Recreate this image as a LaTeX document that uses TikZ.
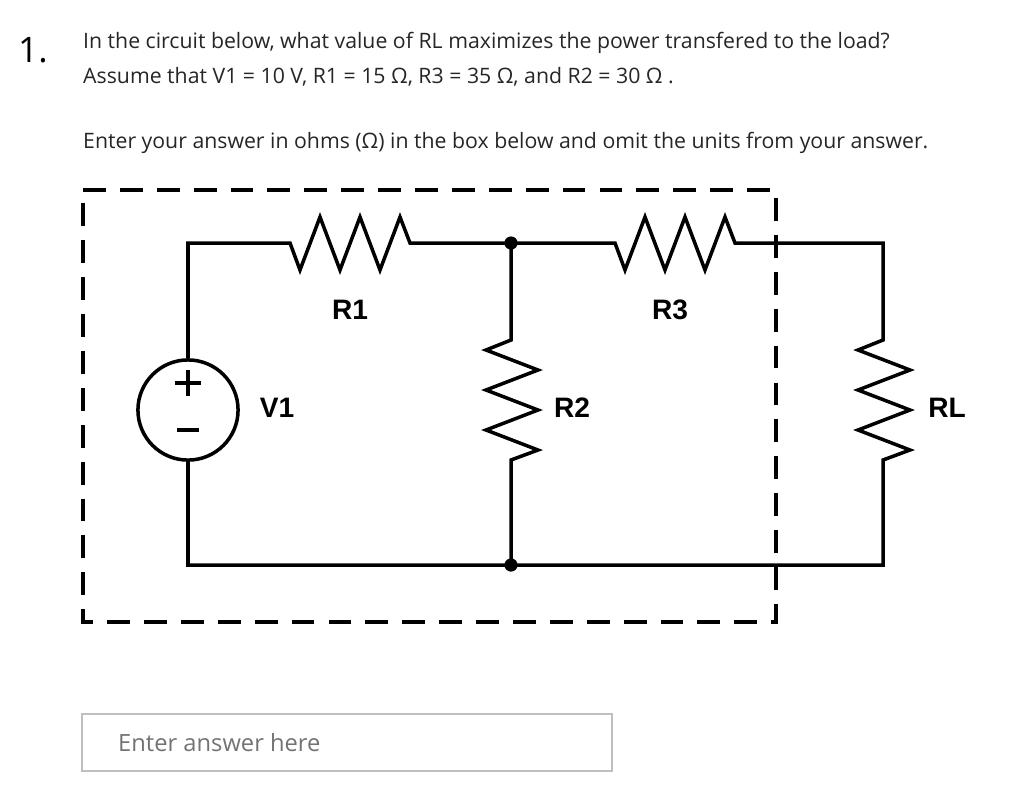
\documentclass[tikz,border=0pt]{standalone}
\usepackage{fontspec}
\setmainfont{Open Sans}
\newfontfamily\lblfont{Liberation Sans}
\usetikzlibrary{positioning}
\tikzset{%
  wire/.style={line width=2pt, line join=miter},
  dot/.style={circle, fill=black, inner sep=0pt, minimum size=7.5pt},
  lbl/.style={font=\lblfont\bfseries\fontsize{16}{19}\selectfont},
  txt/.style={anchor=west, font=\fontsize{12.1}{15}\selectfont, text=black!85},
}
\begin{document}
\begin{tikzpicture}[x=0.02cm, y=-0.02cm]
  \useasboundingbox (0,0) rectangle (1024,796);
  % question
  \node[anchor=west, font=\fontsize{20}{24}\selectfont] (num) at (12,50) {1.};
  \node[txt] (q1) at (77,43) {In the circuit below, what value of RL maximizes the power transfered to the load?};
  \node[txt] (q2) at (77,77) {Assume that V1 = 10 V, R1 = 15 Ω, R3 = 35 Ω, and R2 = 30 Ω .};
  \node[txt] (q3) at (77,143) {Enter your answer in ohms (Ω) in the box below and omit the units from your answer.};
  % dashed box
  \draw[line width=2pt, dash pattern=on 13pt off 8pt] (83,190) -- (776,190) -- (776,622) -- (83,622) -- cycle;
  % nodes
  \node[dot] (ntop) at (511,243) {};
  \node[dot] (nbot) at (511,565) {};
  \coordinate (tr) at (883,243);
  \coordinate (br) at (883,565);
  \node[circle, draw, line width=2pt, minimum size=57pt, inner sep=0pt] (v1) at (188,410) {};
  % wires with resistors
  \draw[wire] (v1.north) -- (188,243) -- (290,243) -- (300,270) -- (320,217) -- (340,270) -- (360,217) -- (380,270) -- (400,217) -- (410,243) -- (ntop.center)
    -- (615,243) -- (625,270) -- (645,217) -- (665,270) -- (685,217) -- (705,270) -- (725,217) -- (735,243) -- (tr)
    -- (883,340) -- (858,350) -- (910,370) -- (858,390) -- (910,410) -- (858,430) -- (910,450) -- (883,460) -- (br) -- (188,565) -- (v1.south);
  \draw[wire] (ntop.center) -- (511,340) -- (486,350) -- (538,370) -- (486,390) -- (538,410) -- (486,430) -- (538,450) -- (511,460) -- (nbot.center);
  % source signs
  \draw[line width=2pt] (175,383) -- (201,383) (188,370) -- (188,396) (177,430) -- (199,430);
  % labels
  \node[lbl] (lr1) at (350,310) {R1};
  \node[lbl] (lr3) at (670,310) {R3};
  \node[lbl] (lv1) at (277,408) {V1};
  \node[lbl] (lr2) at (572,408) {R2};
  \node[lbl] (lrl) at (947,408) {RL};
  % answer box
  \draw[black!25, line width=0.6pt] (82,714) rectangle (612,771);
  \node[txt, text=black!55, font=\fontsize{13.5}{16}\selectfont] (ans) at (112,743) {Enter answer here};
\end{tikzpicture}
\end{document}
